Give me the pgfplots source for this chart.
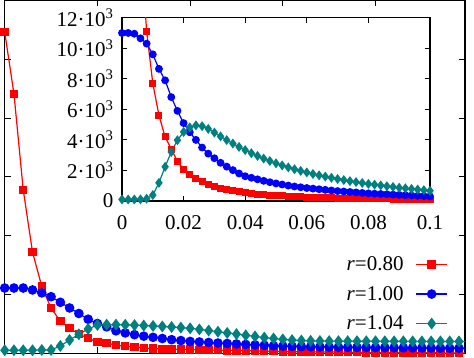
\documentclass[border=0pt]{standalone}
\usepackage{pgfplots}
\pgfplotsset{compat=1.18}
\usepackage{pgfplotstable}
\usepackage{fontspec}
\setmainfont{Liberation Serif}
\definecolor{cred}{RGB}{255,0,0}
\definecolor{cblue}{RGB}{0,0,255}
\definecolor{cteal}{RGB}{0,128,128}

\pgfplotstableread{
i red blue teal
0 54000 11000 100
1 43400 11000 100
2 27400 10950 100
3 17000 10650 110
4 11100 10300 150
5 7700 9600 390
6 5600 8650 1190
7 4200 7900 2240
8 3400 6800 3210
9 2600 5900 3980
10 2070 5100 4520
11 1750 4500 4820
12 1450 4000 4950
13 1250 3500 4900
14 1100 3100 4720
15 950 2800 4480
16 850 2500 4230
17 760 2250 3990
18 680 2020 3760
19 600 1800 3540
20 530 1620 3330
21 490 1520 3130
22 450 1420 2950
23 410 1320 2780
24 380 1230 2620
25 350 1150 2470
26 330 1080 2330
27 300 1010 2200
28 280 950 2080
29 265 900 1970
30 250 850 1870
31 235 810 1770
32 222 770 1680
33 210 730 1600
34 200 690 1520
35 190 650 1440
36 180 620 1370
37 172 590 1300
38 164 560 1240
39 157 530 1180
40 150 500 1120
41 144 480 1070
42 138 460 1020
43 133 440 970
44 128 420 920
45 123 400 870
46 118 380 830
47 114 360 790
48 110 340 750
49 106 320 710
50 100 300 670
}\insettab

\pgfplotstableread{
i red blue teal
0 54650 11130 550
1 44100 11130 550
2 27800 11130 550
3 17250 10800 550
4 11400 10300 600
5 7700 9650 600
6 5500 8700 1280
7 4300 7740 2300
8 3300 6800 3260
9 2600 5830 4170
10 1950 5100 4850
11 1800 4530 4900
12 1400 3850 4900
13 1230 3500 4880
14 1100 3200 4820
15 950 2950 4750
16 850 2750 4680
17 780 2550 4600
18 720 2350 4500
19 690 2200 4400
20 670 2050 4280
21 630 1960 4100
22 590 1870 3900
23 560 1780 3700
24 530 1700 3500
25 500 1620 3300
26 470 1540 3100
27 440 1460 2900
28 410 1390 2700
29 380 1320 2550
30 350 1260 2400
31 320 1210 2280
32 300 1160 2200
33 285 1140 2150
34 270 1120 2120
35 255 1100 2100
36 240 1080 2100
37 225 1060 2095
38 210 1045 2090
39 195 1030 2085
40 180 1015 2080
41 170 1000 2075
42 160 985 2070
43 150 970 2065
44 140 955 2060
45 130 940 2060
46 120 925 2055
47 110 910 2055
48 100 900 2050
49 90 890 2050
50 80 880 2050
}\maintab

\begin{document}
\begin{tikzpicture}[x=1pt,y=1pt]
\pgfplotsset{
  every tick label/.append style={font=\fontsize{21}{25}\selectfont},
  redst/.style={color=cred, line width=1.2pt, mark=square*, mark options={solid}},
  bluest/.style={color=cblue, line width=1.2pt, mark=*, mark options={solid}},
  tealst/.style={color=cteal, line width=1.2pt, mark=diamond*, mark options={solid}},
}
\begin{axis}[
  at={(4.7pt,4.5pt)}, anchor=south west,
  scale only axis, width=460.3pt, height=353pt,
  xmin=0, xmax=0.0993, ymin=0, ymax=60000,
  xtick={0.02,0.04,0.06,0.08}, ytick={0,10000,20000,30000,40000,50000,60000},
  xticklabels={}, yticklabels={},
  scaled x ticks=false, scaled y ticks=false,
  tick align=inside, major tick length=6pt,
  axis line style={line width=1.2pt},
  every tick/.style={line width=1pt, black},
  clip=true,
  legend style={draw=none, fill=none, at={(0.963,0.28)}, anchor=north east,
    font=\fontsize{21}{25}\selectfont, legend cell align=right,
    row sep=10pt, column sep=10pt, inner sep=0pt},
  legend plot pos=right,
  legend image code/.code={\draw[mark repeat=2,mark phase=2,#1] plot coordinates {(0pt,0pt) (15.5pt,0pt) (31pt,0pt)};},
]
\addplot[redst, mark size=3.6pt] table[x expr=0.002*\thisrow{i}, y=red] {\maintab};
\addlegendentry{\textit{r}=0.80}
\addplot[bluest, mark size=4.2pt] table[x expr=0.002*\thisrow{i}, y=blue] {\maintab};
\addlegendentry{\textit{r}=1.00}
\addplot[tealst, mark size=5pt] table[x expr=0.002*\thisrow{i}, y=teal] {\maintab};
\addlegendentry{\textit{r}=1.04}
\end{axis}

\begin{axis}[
  at={(122pt,157pt)}, anchor=south west,
  scale only axis, width=308pt, height=183.3pt,
  xmin=0, xmax=0.1, ymin=0, ymax=12000,
  xtick={0,0.02,0.04,0.06,0.08,0.1},
  xticklabels={0,0.02,0.04,0.06,0.08,0.1},
  ytick={0,2000,4000,6000,8000,10000,12000},
  yticklabels={0,2·10\textsuperscript{3},4·10\textsuperscript{3},6·10\textsuperscript{3},8·10\textsuperscript{3},10·10\textsuperscript{3},12·10\textsuperscript{3}},
  scaled x ticks=false, scaled y ticks=false,
  tick align=inside, major tick length=5pt,
  axis line style={line width=1.2pt},
  every tick/.style={line width=1pt, black},
  axis background/.style={fill=white},
  xticklabel style={yshift=-11pt},
  yticklabel style={xshift=-5pt},
  clip=true,
]
\addplot[redst, mark size=2.9pt] table[x expr=0.002*\thisrow{i}, y=red] {\insettab};
\addplot[bluest, mark size=3.3pt] table[x expr=0.002*\thisrow{i}, y=blue] {\insettab};
\addplot[tealst, mark size=4pt] table[x expr=0.002*\thisrow{i}, y=teal] {\insettab};
\end{axis}
\pgfresetboundingbox
\path[use as bounding box] (0,0) rectangle (474pt,358pt);
\end{tikzpicture}
\end{document}
